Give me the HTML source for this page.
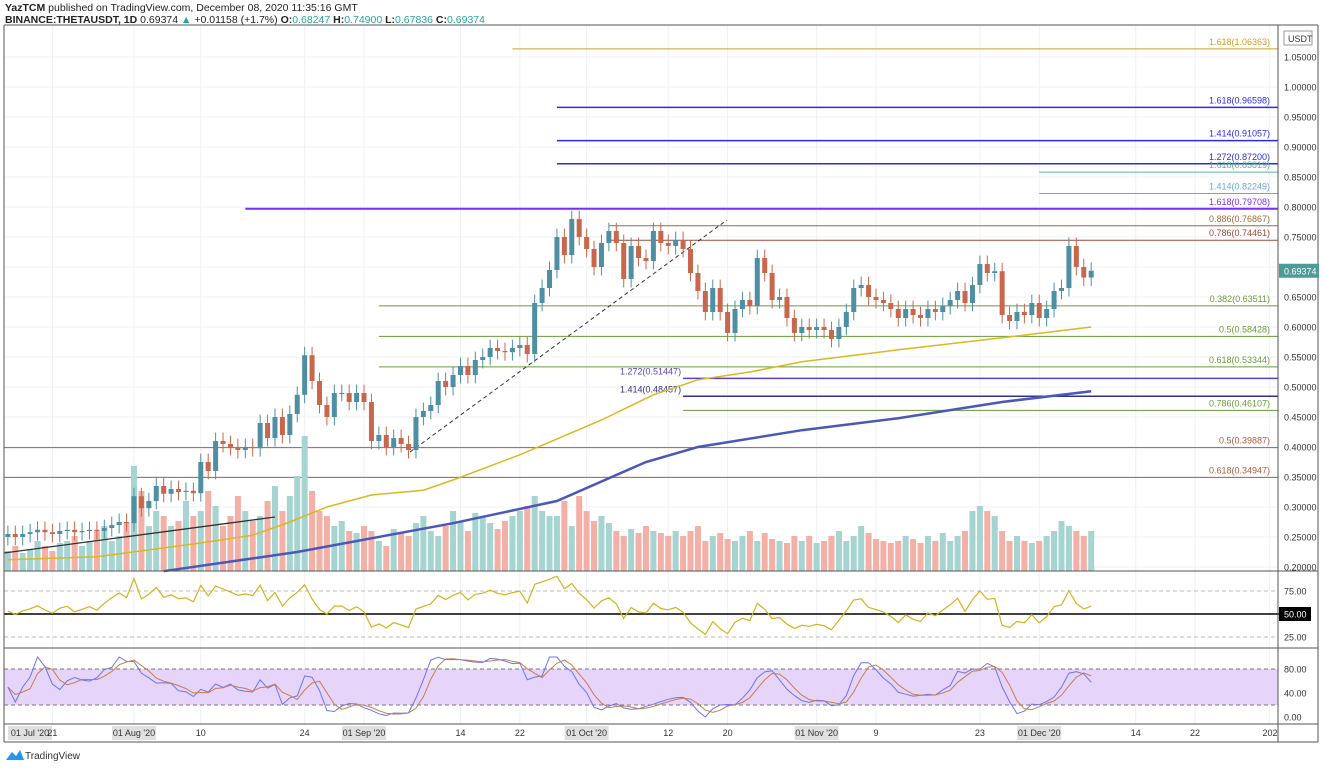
<!DOCTYPE html>
<html><head><meta charset="utf-8">
<style>
html,body{margin:0;padding:0;background:#fff;width:1323px;height:768px;overflow:hidden;font-family:"Liberation Sans",sans-serif}
svg text{font-family:"Liberation Sans",sans-serif}
</style></head>
<body>
<svg id="chart" width="1323" height="768" xmlns="http://www.w3.org/2000/svg">
<text x="5" y="11" font-size="10.5" fill="#222"><tspan font-weight="bold">YazTCM</tspan> published on TradingView.com, December 08, 2020 11:35:16 GMT</text>
<text x="5" y="23" font-size="10.5" fill="#222"><tspan font-weight="bold">BINANCE:THETAUSDT, 1D</tspan> 0.69374 <tspan fill="#26a69a">▲</tspan> +0.01158 (+1.7%) <tspan font-weight="bold">O:</tspan><tspan fill="#26a69a">0.68247</tspan> <tspan font-weight="bold">H:</tspan><tspan fill="#26a69a">0.74900</tspan> <tspan font-weight="bold">L:</tspan><tspan fill="#26a69a">0.67836</tspan> <tspan font-weight="bold">C:</tspan><tspan fill="#26a69a">0.69374</tspan></text>
<g id="grid"></g>
<g id="fibs"></g>
<g id="vol"></g>
<g id="mas"></g>
<g id="candles"></g>
<g id="ind"></g>
<g id="frame"></g>
<g id="axes"></g>
<g>
<path d="M6 760 L12 752 L16 756 L20 750 L24 760 Z" fill="#2196f3"/>
<text x="25" y="759" font-size="10" fill="#333">TradingView</text>
</g>
</svg>
<script>
// ===== data =====
const closes = [
0.255,0.25,0.255,0.258,0.262,0.258,0.255,0.26,0.262,0.258,0.26,0.262,0.26,0.265,0.27,0.275,0.273,
0.318,0.298,0.31,0.335,0.322,0.33,0.325,0.327,0.323,0.375,0.36,0.41,0.405,0.40,0.395,0.40,0.398,0.44,0.415,0.45,0.42,0.455,0.487,0.553,0.51,0.47,0.45,0.49,0.49,0.475,0.49,
0.475,0.41,0.42,0.40,0.415,0.405,0.395,0.45,0.46,0.47,0.51,0.50,0.52,0.535,0.52,0.545,0.55,0.565,0.56,0.558,0.565,0.57,0.555,0.64,0.665,0.695,0.75,0.72,0.78,0.75,
0.73,0.70,0.74,0.76,0.74,0.68,0.735,0.715,0.71,0.76,0.74,0.735,0.745,0.73,0.69,0.66,0.625,0.665,0.625,0.59,0.63,0.645,0.635,0.715,0.69,0.645,0.65,0.615,0.59,0.60,0.595,
0.60,0.595,0.58,0.60,0.625,0.665,0.67,0.65,0.645,0.64,0.63,0.615,0.63,0.62,0.615,0.63,0.625,0.635,0.645,0.66,0.64,0.67,0.705,0.69,0.693,0.62,0.61,0.625,0.62,0.64,
0.615,0.63,0.66,0.665,0.735,0.70,0.68247,0.69374];
const firstOpen = 0.25;
const volumes = [
20,25,18,22,30,25,20,28,30,35,25,30,40,45,30,35,48,
105,80,45,60,55,45,50,70,55,60,80,65,45,55,75,60,50,55,70,85,60,75,95,135,80,60,55,45,50,40,38,
45,40,30,25,42,38,35,48,55,40,35,45,60,50,40,58,55,48,42,50,55,60,65,75,60,55,55,70,45,75,
60,50,55,48,40,35,42,38,45,40,38,35,40,35,40,45,30,35,38,32,30,35,40,30,38,32,30,28,35,30,35,
28,30,35,40,30,35,45,38,32,30,28,30,35,32,28,35,30,38,30,35,40,60,65,60,55,40,30,35,30,28,
30,35,40,50,45,40,35,40];
const startDay = -17; // days relative to 01 Aug 2020
const maYellowDays = [-17,-5,9,16,21,26,32,39,43,52,63,70,76,83,90,103,117,129];
const maYellowVals = [0.212,0.217,0.24,0.253,0.275,0.30,0.32,0.328,0.345,0.387,0.445,0.487,0.512,0.525,0.542,0.562,0.582,0.60];
const maBlueDays = [4,22,43,57,69,76,90,103,117,129];
const maBlueVals = [0.193,0.225,0.273,0.31,0.375,0.40,0.428,0.448,0.475,0.493];
const priceTicks = [1.05,1.0,0.95,0.9,0.85,0.8,0.75,0.7,0.65,0.6,0.55,0.5,0.45,0.4,0.35,0.3,0.25,0.2];
const timeLabels = ["01 Jul '20","21","01 Aug '20","10","24","01 Sep '20","14","22","01 Oct '20","12","20","01 Nov '20","9","23","01 Dec '20","14","22","202"];
const timeDays = [-31,-11,0,9,23,31,44,52,61,72,80,92,100,114,122,135,143,153];
const fibLabels = ["1.618(1.06363)","1.618(0.96598)","1.414(0.91057)","1.272(0.87200)","1.618(0.85819)","1.414(0.82249)","1.618(0.79708)","0.886(0.76867)","0.786(0.74461)","0.382(0.63511)","0.5(0.58428)","0.618(0.53344)","1.272(0.51447)","1.414(0.48457)","0.786(0.46107)","0.5(0.39887)","0.618(0.34947)"];
const fibPrices = [1.06363,0.96598,0.91057,0.872,0.85819,0.82249,0.79708,0.76867,0.74461,0.63511,0.58428,0.53344,0.51447,0.48457,0.46107,0.39887,0.34947];
const fibStartDays = [51,57,57,57,122,122,15,64,64,33,33,33,74,74,74,-20,-20];
const fibColors = ["#d4a020","#2b2be6","#2b2be6","#2b2be6","#5fb3a0","#64a8e0","#7b2ff0","#9c6a3c","#9c4a3c","#6b9a3a","#6b9a3a","#6b9a3a","#5b3fc4","#303090","#6b9a3a","#b05a40","#b05a40"];
const fibWidths = [1,1.5,1.5,1.5,1,1,2,1,1,1,1,1,1.5,1.5,1,1,1];

// ===== scales =====
const NS="http://www.w3.org/2000/svg";
const PL=4, PR=1278, PT=25, MB=571;
const xOf = d => 134 + 7.42*d;
const yP = p => 207 + (0.80 - p)*600;
const yVol = v => MB - v*1.0;
const yRsi = v => 614 - (v-50)*0.92;
const ySto = v => 717 - v*0.6;
function mk(tag, attrs, parent){const e=document.createElementNS(NS,tag);for(const k in attrs)e.setAttribute(k,attrs[k]);document.getElementById(parent).appendChild(e);return e;}

// grid
timeDays.forEach((d,i)=>{const x=xOf(d); if(x<PL||x>PR)return;
 const g=mk('line',{x1:x,x2:x,y1:PT,y2:724,stroke:'#eef0f4','stroke-width':1},'grid');
 
 });
priceTicks.forEach(p=>{const y=yP(p);
 const g=mk('line',{x1:PL,x2:PR,y1:y,y2:y,stroke:'#f1f3f6','stroke-width':1},'grid');
 
 });

// fibs
fibPrices.forEach((p,i)=>{const y=yP(p); const x1=Math.max(PL,xOf(fibStartDays[i]));
 const l=mk('line',{x1:x1,x2:PR,y1:y,y2:y,stroke:fibColors[i],'stroke-width':fibWidths[i]},'fibs');
 
 
 let tx=PR-8, anchor='end';
 if(i===12||i===13){tx=xOf(fibStartDays[i])-2;}
 const t=mk('text',{x:tx,y:y-4,'font-size':9,fill:fibColors[i],'text-anchor':anchor},'fibs');
 t.textContent=fibLabels[i];
 
 });

// candles & volume
let prev=firstOpen;
closes.forEach((c,i)=>{const d=startDay+i, x=xOf(d), o=prev; prev=c;
 const up=c>=o; const col=up?'#4f8fa3':'#c9674c';
 const v=mk('rect',{x:x-3,y:yVol(volumes[i]),width:6,height:volumes[i],fill:up?'#a6d4d0':'#f3b0a6'},'vol');
 
 
 const hi=Math.max(o,c)+0.014, lo=Math.min(o,c)-0.014;
 const w=mk('line',{x1:x,x2:x,y1:yP(hi),y2:yP(lo),stroke:col,'stroke-width':1},'candles');
 
 
 const top=yP(Math.max(o,c)), h=Math.max(1,yP(Math.min(o,c))-top);
 const b=mk('rect',{x:x-2.5,y:top,width:5,height:h,fill:col},'candles');
 
 });

// MAs
function maPath(days,vals){return days.map((d,i)=>(i?'L':'M')+xOf(d).toFixed(1)+' '+yP(vals[i]).toFixed(1)).join(' ');}
const my=mk('path',{d:maPath(maYellowDays,maYellowVals),fill:'none',stroke:'#d9b820','stroke-width':1.5},'mas');


const mbl=mk('path',{d:maPath(maBlueDays,maBlueVals),fill:'none',stroke:'#4a58b8','stroke-width':2.5},'mas');


const tl=mk('line',{x1:PL,y1:553,x2:275,y2:517,stroke:'#333','stroke-width':1.3},'mas');


const dl=mk('line',{x1:410,y1:452,x2:727,y2:220,stroke:'#333','stroke-width':1,'stroke-dasharray':'4 3'},'mas');



// RSI & Stoch RSI computed from closes
const N=7;
let ag=0.006, al=0.006; const rsi=[];
closes.forEach((c,i)=>{const ch=c-(i?closes[i-1]:firstOpen);
 ag=(ag*(N-1)+Math.max(ch,0))/N; al=(al*(N-1)+Math.max(-ch,0))/N; rsi.push(100-100/(1+ag/(al||1e-9)));});
const raw=rsi.map((r,i)=>{const w=rsi.slice(Math.max(0,i-13),i+1);const mn=Math.min(...w),mx=Math.max(...w);return mx>mn?(r-mn)/(mx-mn)*100:50;});
const sma=(a,n)=>a.map((v,i)=>{const w=a.slice(Math.max(0,i-n+1),i+1);return w.reduce((s,x)=>s+x,0)/w.length;});
const K=sma(raw,3), D=sma(K,3);
const band=mk('rect',{x:PL,y:ySto(80),width:PR-PL,height:ySto(20)-ySto(80),fill:'#e6d4fa'},'ind');


[[yRsi(75),'#bbb','4 3'],[yRsi(25),'#bbb','4 3'],[ySto(80),'#777','4 3'],[ySto(20),'#777','4 3']].forEach(a=>{
 const l=mk('line',{x1:PL,x2:PR,y1:a[0],y2:a[0],stroke:a[1],'stroke-dasharray':a[2]},'ind');
 
 });
const r50=mk('line',{x1:PL,x2:1290,y1:yRsi(50),y2:yRsi(50),stroke:'#000','stroke-width':1.5},'ind');


function lp(arr,fy){return arr.map((v,i)=>(i?'L':'M')+xOf(startDay+i).toFixed(1)+' '+fy(v).toFixed(1)).join(' ');}
const rl=mk('path',{d:lp(rsi,yRsi),fill:'none',stroke:'#d4b21c','stroke-width':1.2},'ind');


const kl=mk('path',{d:lp(K,ySto),fill:'none',stroke:'#6f73f5','stroke-width':1},'ind');


const dln=mk('path',{d:lp(D,ySto),fill:'none',stroke:'#c4804a','stroke-width':1},'ind');



// frame
[[PL,PT,PL,742],[PL,742,1318,742],[PR,PT,PR,742],[PL,PT,1318,PT],[PL,MB,1318,MB],[PL,648,1318,648],[PL,724,1318,724],[1318,PT,1318,742]].forEach(a=>{
 const l=mk('line',{x1:a[0],y1:a[1],x2:a[2],y2:a[3],stroke:'#555','stroke-width':1},'frame');
 
 });

// axes labels
priceTicks.forEach(p=>{const t=mk('text',{x:1284,y:yP(p)+3.5,'font-size':9,fill:'#333'},'axes');
 t.textContent=p.toFixed(5);
 
 });
const ub=mk('rect',{x:1284,y:31,width:28,height:14,fill:'#fff',stroke:'#999'},'axes');


const ut=mk('text',{x:1288,y:42,'font-size':9,fill:'#333'},'axes'); ut.textContent='USDT';


const lastC=closes[closes.length-1];
const pb=mk('rect',{x:1279,y:yP(lastC)-7,width:40,height:14,fill:'#4e9c98'},'axes');


const pt=mk('text',{x:1284,y:yP(lastC)+3.5,'font-size':9,fill:'#fff'},'axes'); pt.textContent=lastC.toFixed(5);


[[75,'75.00',yRsi],[25,'25.00',yRsi],[80,'80.00',ySto],[40,'40.00',ySto],[0,'0.00',ySto]].forEach(a=>{
 const t=mk('text',{x:1284,y:a[2](a[0])+3.5,'font-size':9,fill:'#333'},'axes'); t.textContent=a[1];
 
 });
const b50=mk('rect',{x:1279,y:yRsi(50)-7,width:32,height:14,fill:'#000'},'axes');


const t50=mk('text',{x:1284,y:yRsi(50)+3.5,'font-size':9,fill:'#fff'},'axes'); t50.textContent='50.00';


timeLabels.forEach((s,i)=>{let x=xOf(timeDays[i]); if(i===0)x=30; if(i===timeLabels.length-1)x=1270;
 if(s.length>3){const r=mk('rect',{x:x-22,y:726,width:44,height:14,fill:'#e0e0e0'},'axes');
  
  }
 const t=mk('text',{x:x,y:736,'font-size':9,fill:'#333','text-anchor':'middle'},'axes'); t.textContent=s;
 
 });
</script>
</body></html>
